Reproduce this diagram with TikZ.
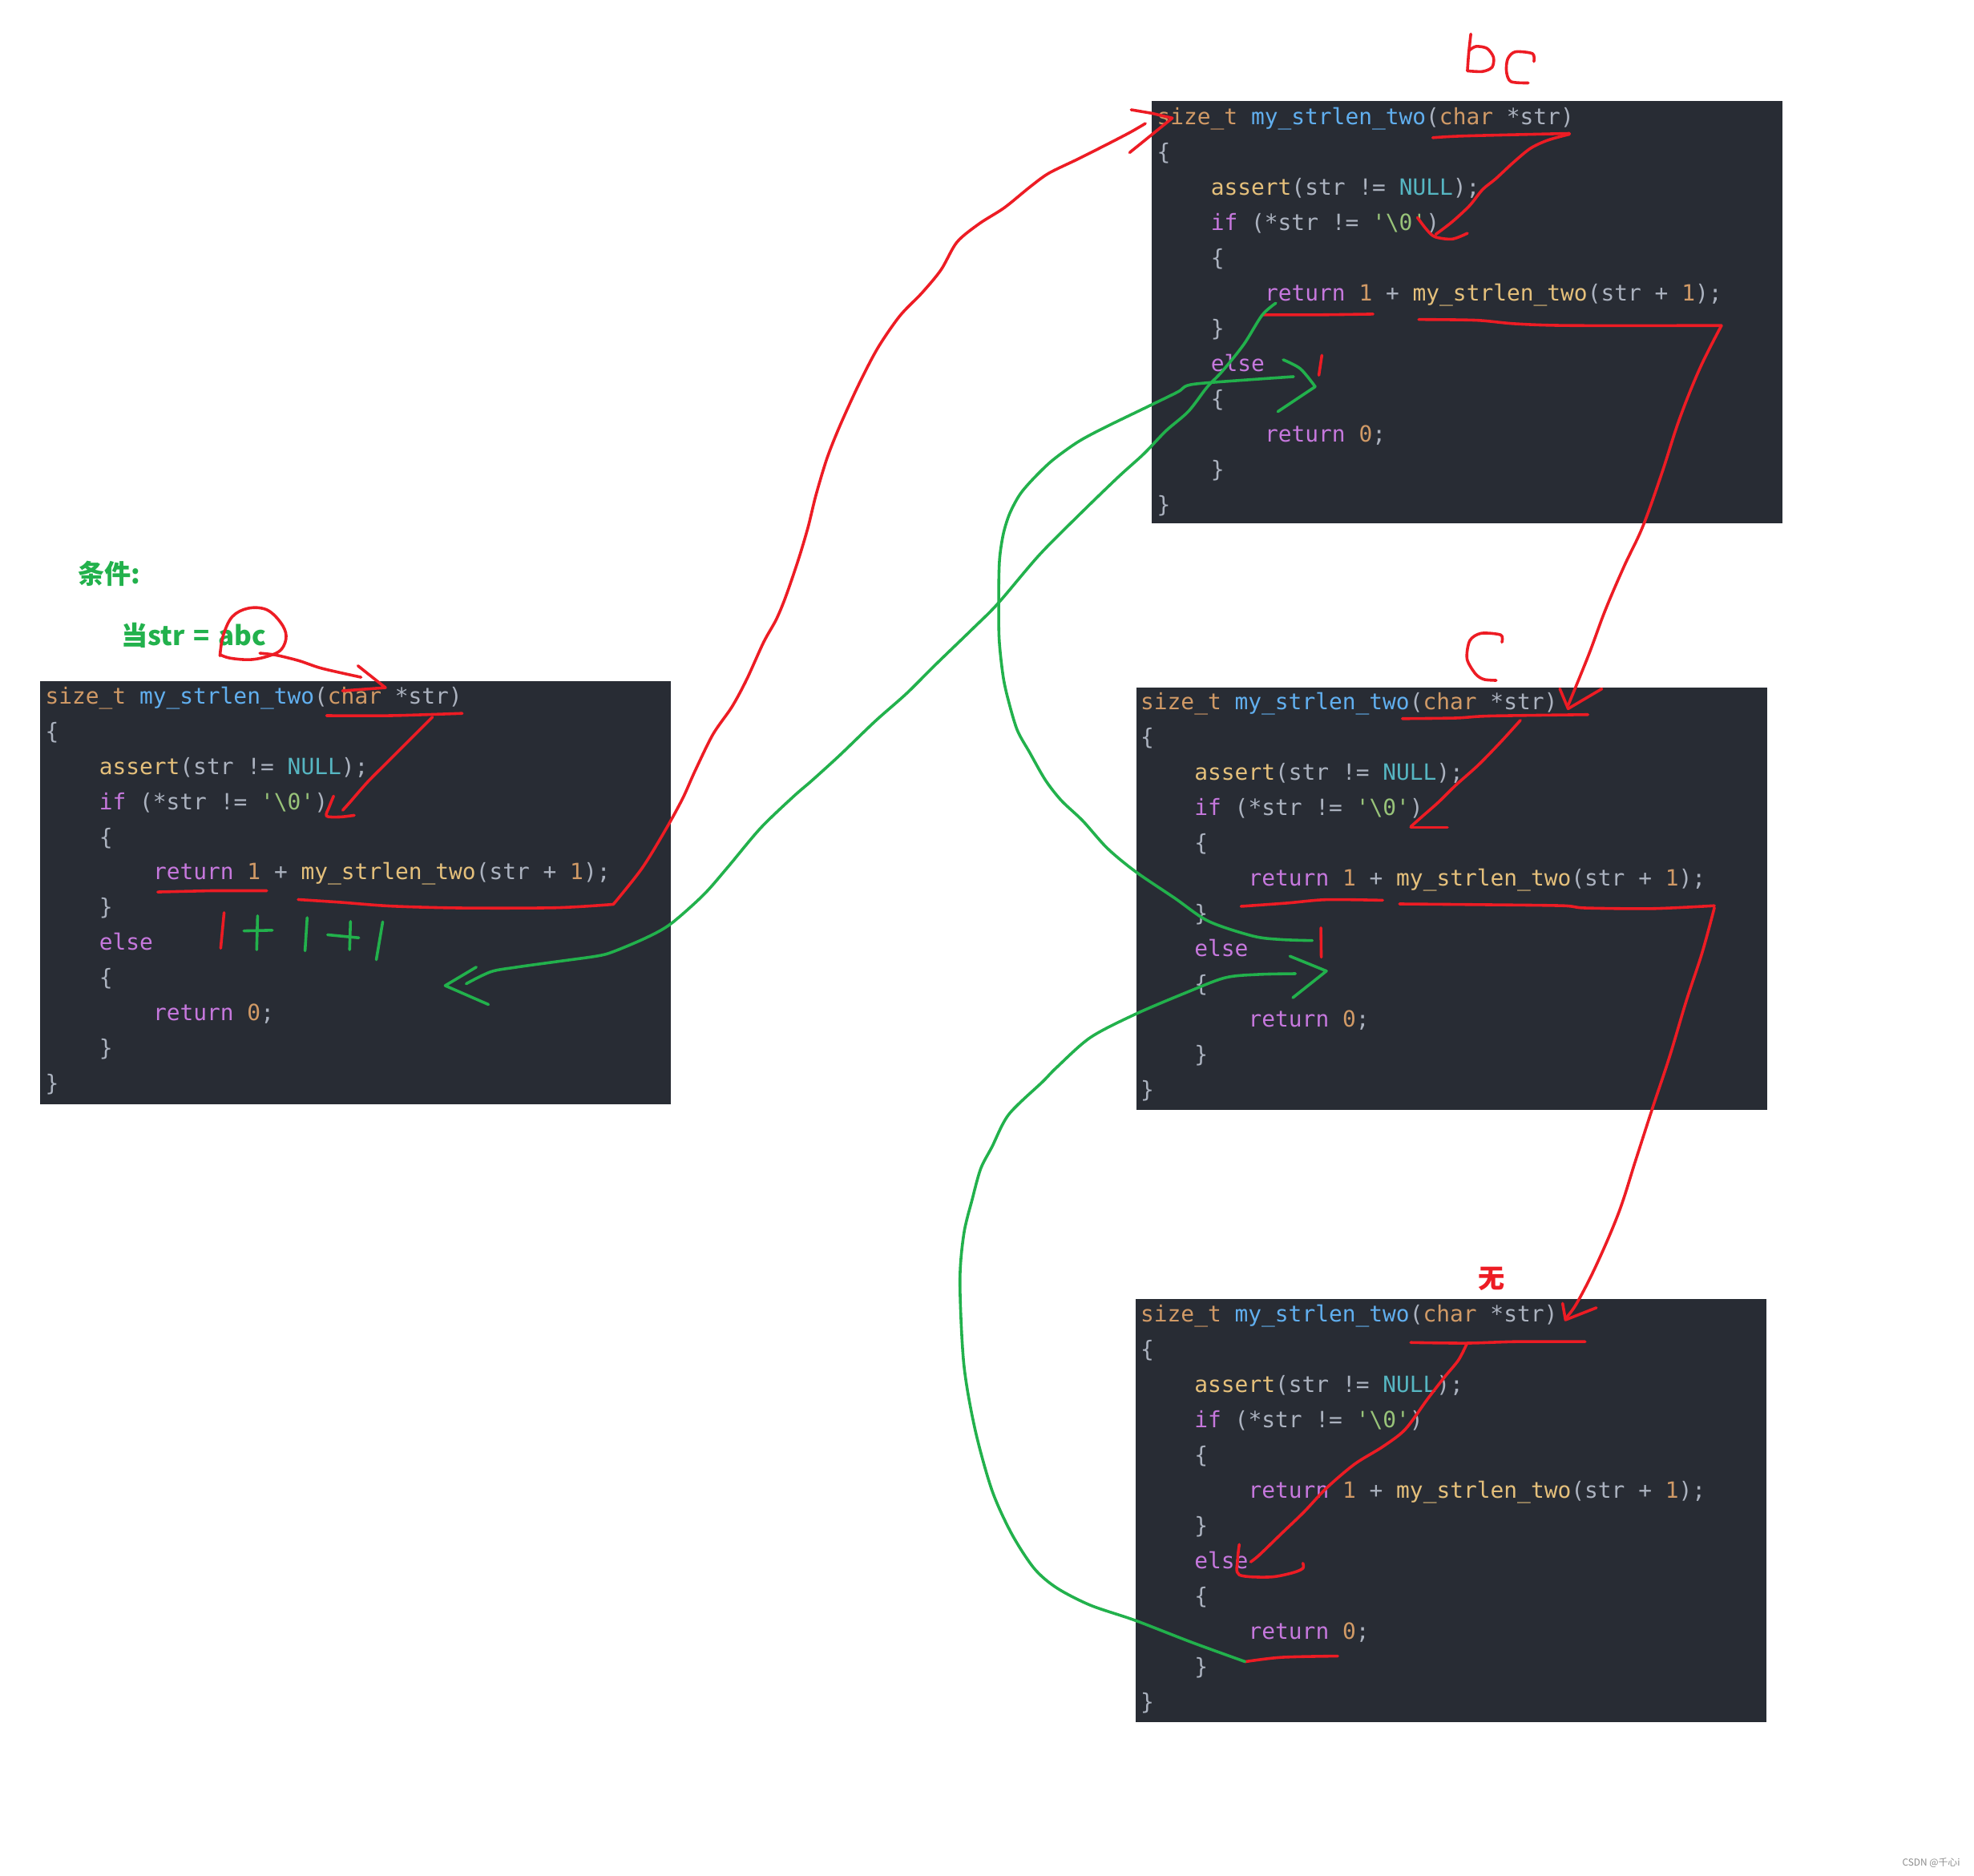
\documentclass[tikz,border=0pt]{standalone}
\usepackage{fontspec}
\setmonofont{DejaVu Sans Mono}
\newfontfamily\cjk{Noto Sans CJK SC}
\definecolor{codebg}{HTML}{282C34}
\definecolor{cPlain}{HTML}{ABB2BF}
\definecolor{cType}{HTML}{D19A66}
\definecolor{cFunc}{HTML}{61AFEF}
\definecolor{cAssert}{HTML}{E5C07B}
\definecolor{cNull}{HTML}{56B6C2}
\definecolor{cKey}{HTML}{C678DD}
\definecolor{cStr}{HTML}{98C379}
\definecolor{cNum}{HTML}{D19A66}
\definecolor{cCall}{HTML}{E5C07B}
\definecolor{penred}{HTML}{ED1C24}
\definecolor{pengreen}{HTML}{22B14C}
\newcommand\cTy[1]{\textcolor{cType}{#1}}
\newcommand\cFn[1]{\textcolor{cFunc}{#1}}
\newcommand\cAs[1]{\textcolor{cAssert}{#1}}
\newcommand\cNu[1]{\textcolor{cNull}{#1}}
\newcommand\cKw[1]{\textcolor{cKey}{#1}}
\newcommand\cSt[1]{\textcolor{cStr}{#1}}
\newcommand\cNm[1]{\textcolor{cNum}{#1}}
\newcommand\cCl[1]{\textcolor{cCall}{#1}}
\newcommand\codebox[5]{%
 \fill[codebg] (#2,#3) rectangle ++(501,336);
 \node[code] (#1l1)  at (#4,#5+6) {\cTy{size\_t} \cFn{my\_strlen\_two}(\cTy{char} *str)};
 \node[code] (#1l2)  at (#4,#5+34) {\{};
 \node[code] (#1l3)  at (#4+42.8,#5+62) {\cAs{assert}(str != \cNu{NULL});};
 \node[code] (#1l4)  at (#4+42.8,#5+90) {\cKw{if} (*str != \cSt{'\textbackslash 0'})};
 \node[code] (#1l5)  at (#4+42.8,#5+118) {\{};
 \node[code] (#1l6)  at (#4+85.6,#5+146) {\cKw{return} \cNm{1} + \cCl{my\_strlen\_two}(str + \cNm{1});};
 \node[code] (#1l7)  at (#4+42.8,#5+174) {\}};
 \node[code] (#1l8)  at (#4+42.8,#5+202) {\cKw{else}};
 \node[code] (#1l9)  at (#4+42.8,#5+230) {\{};
 \node[code] (#1l10) at (#4+85.6,#5+258) {\cKw{return} \cNm{0};};
 \node[code] (#1l11) at (#4+42.8,#5+286) {\}};
 \node[code] (#1l12) at (#4,#5+314) {\}};
}
\begin{document}
\begin{tikzpicture}[x=0.02cm,y=-0.02cm,
  code/.style={anchor=base west,inner sep=0pt,outer sep=0pt,text=cPlain,font=\ttfamily\fontsize{10.1}{12}\selectfont},
  pr/.style={draw=penred,line width=1.3pt,line cap=round,line join=round},
  pg/.style={draw=pengreen,line width=1.3pt,line cap=round,line join=round},
  cjklabel/.style={inner sep=0pt,font=\cjk\bfseries\fontsize{12}{14}\selectfont}]
\useasboundingbox (0,0) rectangle (1568,1490.3);
\fill[white] (0,0) rectangle (1568,1490.3);

\codebox{a}{32}{541}{36}{553}
\codebox{b}{915}{80}{919}{93}
\codebox{c}{903}{546}{906}{558}
\codebox{d}{902}{1032}{906}{1044}

\node[cjklabel,text=pengreen] (cond) at (87,456) {条件:};
\node[cjklabel,text=pengreen] (when) at (154,505) {当str\hspace{0.33em}=\hspace{0.33em}abc};
\node[cjklabel,text=penred] (none) at (1185,1016) {无};
\node[inner sep=0pt,text=black!45,font=\cjk\fontsize{4.3}{5}\selectfont] (wm) at (1534,1480) {CSDN @千心i};

% ---------- red strokes ----------
% circle around abc and arrow to box a
\draw[pr] plot[smooth,tension=0.6] coordinates {(174.7,521) (177.2,505.2) (184.5,489.9) (197.3,483.2) (211.9,484.4) (222.9,494.5) (227.3,505.2) (223.6,515.8) (213.8,521) (199.1,524) (182.7,522.8) (174.7,520)};
\draw[pr] plot[smooth] coordinates {(206.4,518.9) (219.2,520.4) (237.5,524.9) (255.8,531) (286.8,538)};
\draw[pr] (284.3,528.9) -- (306.2,546.3) -- (272,548.8);
% box a
\draw[pr] plot[smooth] coordinates {(259.4,568.5) (310.6,568.5) (367.2,566.7)};
\draw[pr] plot[smooth] coordinates {(343.5,569.7) (328.9,584.3) (310.6,602.6) (292.3,620.9) (277.7,637.6) (272.2,643.7)};
\draw[pr] plot[smooth] coordinates {(265,632.4) (261.5,641) (259.4,648.3) (270,649) (281.4,647.7)};
\draw[pr] (125.3,708.6) -- (168.1,707.6) -- (211.9,707.6);
\draw[pr] plot[smooth] coordinates {(236.8,714.6) (270.4,716.8) (310.6,719.8) (365.4,721.3) (441.7,721.1) (487.2,718.4)};
\draw[pr] plot[smooth,tension=0.5] coordinates {(487.2,718.4) (510,689.7) (529.4,657.9) (542.4,634) (552,612.6) (566.3,583.4) (581.4,561.5) (593,540) (606.5,510.3) (616.6,492.1) (624.2,473.8) (634.2,444.5) (641.8,419) (648.1,393.4) (656.9,364.1) (667,338.6) (682,305.7) (697.2,276.5) (714.8,250.9) (732.4,232.6) (747.5,214.3) (760.1,192.4) (777.7,177.8) (797.8,165) (818,148.6) (833.1,137.6) (855.7,126.6) (880.9,113.9) (898.5,104.7) (909.8,98.1)};
\draw[pr] (898.5,87.2) -- (915,90) -- (931.2,93.8) -- (897.3,121.2);
% "bc"
\draw[pr] plot[smooth] coordinates {(1168.3,27) (1166.6,42.6) (1165.6,56.3)};
\draw[pr] plot[smooth] coordinates {(1165.6,56.3) (1177.6,56.8) (1185.2,53.4) (1186.3,45.5) (1181.1,38.4) (1172.5,36.9) (1167.3,39.8)};
\draw[pr] plot[smooth] coordinates {(1218.4,48.9) (1217.3,42.6) (1203.5,41.2) (1197.6,46.9) (1196.6,56.8) (1200.1,64.8) (1213.9,65.9)};
% box b
\draw[pr] plot[smooth] coordinates {(1138,109.4) (1163.8,108) (1246.7,106)};
\draw[pr] plot[smooth] coordinates {(1246.7,106.6) (1229.4,111.4) (1215.6,117.9) (1201.8,129.3) (1188,142.1) (1177.6,150.6) (1167.3,163.4) (1153.5,176.2) (1140.4,186.2)};
\draw[pr] plot[smooth] coordinates {(1125.9,172.8) (1132.8,181.9) (1139.7,188.1) (1153.5,189.9) (1165.6,185.3)};
\draw[pr] plot[smooth] coordinates {(1003.4,250.1) (1046.5,250.1) (1090.7,249.5)};
\draw[pr] plot[smooth] coordinates {(1126.9,253.8) (1172.5,254.4) (1203.5,257.2) (1246.7,258.6) (1367.4,258.6)};
\draw[pr] plot[smooth,tension=0.6] coordinates {(1367.4,258.6) (1350.2,292.7) (1334,333) (1320,376) (1305,418) (1290,450) (1275,485) (1262,520) (1245.6,560.3)};
\draw[pr] (1239,547.2) -- (1245.6,563) -- (1272.4,547.2);
\draw[pr] (1050,282.2) -- (1047.6,298.1);
% "C"
\draw[pr] plot[smooth] coordinates {(1193,510.2) (1192.1,504.4) (1176.5,503.1) (1167.5,508.9) (1165.3,523.4) (1172,535.3) (1178.7,539.7) (1188.5,540.5)};
% box c
\draw[pr] plot[smooth] coordinates {(1113.9,570.9) (1156.4,570.4) (1183.2,568.8) (1261.3,567.7)};
\draw[pr] plot[smooth] coordinates {(1207.7,572.2) (1192.1,589.4) (1174.2,607.8) (1156.4,623.7) (1143,636.9) (1129.6,648.7) (1120.6,656.7)};
\draw[pr] (1120.6,657.2) -- (1149.7,657.2);
\draw[pr] plot[smooth] coordinates {(985.8,720) (1022.4,717.4) (1053.6,714.7) (1098.3,715.2)};
\draw[pr] plot[smooth] coordinates {(1111.7,718.1) (1178.7,718.7) (1241.2,719.5) (1259.1,721.3) (1312.7,721.8) (1361.8,719.5)};
\draw[pr] plot[smooth,tension=0.6] coordinates {(1361.8,721) (1352,757) (1339.5,795) (1326,840) (1312.7,880) (1299.3,921.5) (1285.9,963) (1268,1005) (1252.4,1035.4) (1243.5,1047.5)};
\draw[pr] (1241.2,1035.4) -- (1243.5,1048.5) -- (1268,1038.9);
\draw[pr] (1049.2,737.1) -- (1049.5,760.4);
% box d
\draw[pr] plot[smooth] coordinates {(1120.6,1066.5) (1165,1067) (1205.5,1065.8) (1259.1,1065.8)};
\draw[pr] plot[smooth] coordinates {(1165.3,1067.1) (1158.6,1080.3) (1147.4,1094) (1134,1111.3) (1116.2,1135.5) (1098.3,1149.3) (1076,1163.1) (1053.7,1182.1) (1035.8,1201.1) (1017.9,1218.3) (1000,1235.6) (993.4,1240.8)};
\draw[pr] plot[smooth] coordinates {(984.4,1226.9) (983.1,1239) (984.4,1251.1) (1009,1252.8) (1026.9,1249.4) (1034.9,1245.9) (1034.9,1241.8)};
\draw[pr] plot[smooth] coordinates {(988.9,1320.1) (1017.9,1316.6) (1062.6,1315.6)};
% 1+1+1
\draw[pr] (178,725) -- (175.3,753.3);
\draw[pg] (204.6,727.5) -- (203.9,754.5);
\draw[pg] (193.7,739.5) -- (216.3,739);
\draw[pg] (244,729) -- (242.3,755.3);
\draw[pg] (260.2,742.6) -- (285,745);
\draw[pg] (278.4,732) -- (277.7,754.5);
\draw[pg] (304,732.3) -- (298.9,762.4);

% ---------- green strokes ----------
\draw[pg] plot[smooth,tension=0.5] coordinates {(1013.4,240.8) (1002.5,250.4) (987.9,273.7) (970.8,295) (958.7,307.7) (944,326.8) (926.2,342.2) (908.6,360.5) (888.4,378.8) (858.2,408) (825.5,440.9) (792.8,479.3) (772.7,499.4) (742.5,528.6) (720,551) (695.1,573) (667,600) (645,620) (630,633) (604,658) (578,689) (558.7,711) (532.7,734) (513.2,745) (487.2,756) (474.2,759.5) (441.7,764) (409.2,768.5) (389.8,772) (370.3,781.5)};
\draw[pg] (378.3,768.3) -- (353.6,783) -- (388,798);
\draw[pg] plot[smooth,tension=0.5] coordinates {(1042.4,747.2) (1018,746.4) (995.6,743.7) (959.9,731.8) (933,713.4) (901.8,692.3) (879.5,673.8) (860,652) (843.1,636) (830.5,619.9) (818,598) (807.9,579.7) (800.4,554.2) (796.6,535.9) (793.6,506.7) (793.3,470) (794,444) (797,424) (802,408) (810,393) (820.5,380.6) (835.6,366) (855.7,351.4) (875.9,340.4) (913.6,322.1) (935.8,311.2) (943,306.3) (960.3,304) (1027.5,299.2)};
\draw[pg] plot[smooth] coordinates {(1019.3,285.8) (1033,293) (1044.7,307.2)};
\draw[pg] (1044.7,307.2) -- (1015,327);
\draw[pg] plot[smooth,tension=0.5] coordinates {(1029,773.5) (1000,774.1) (973.2,776.7) (942,788.6) (901.8,805.7) (866.1,824.2) (839.3,848) (828.1,859.4) (801.3,885.3) (787.9,911.2) (779,928.4) (772.3,952.6) (765.6,980.2) (762.5,1018.2) (765.6,1083.8) (774.5,1135.5) (787.9,1183.8) (803.5,1218.3) (821.4,1245.9) (839.3,1261.4) (866.1,1275.2) (901.8,1287.3) (946.4,1304.6) (988.9,1320)};
\draw[pg] (1024.6,759.6) -- (1053.6,771.4) -- (1026.9,792.6);
\end{tikzpicture}
\end{document}
